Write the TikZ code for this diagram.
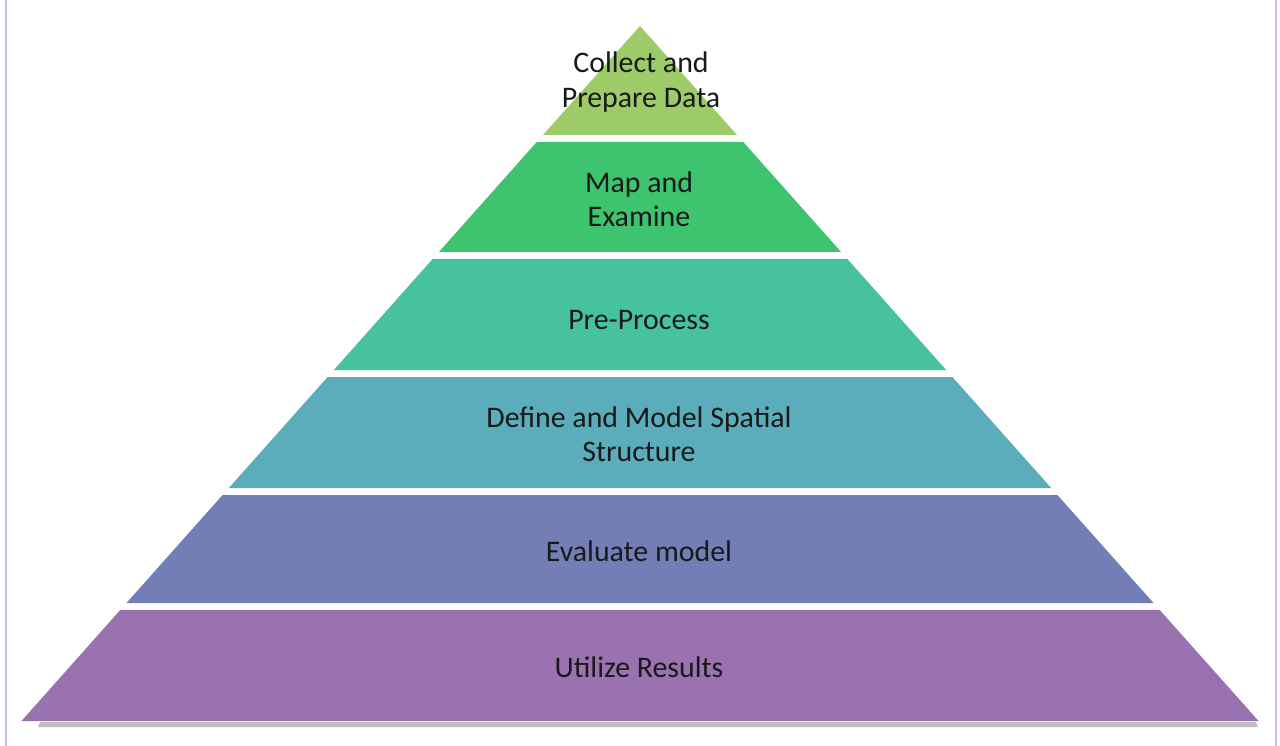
\documentclass[tikz,border=0pt]{standalone}
\usepackage{fontspec}
\setmainfont{Carlito}
\begin{document}
\begin{tikzpicture}[x=0.02cm,y=-0.02cm,
  lbl/.style={align=center,font=\fontsize{17}{19.5}\selectfont,text=black!90}]
\useasboundingbox (0,0) rectangle (1280,746);
\fill[white] (0,0) rectangle (1280,746);
\draw[blue!25,line width=1.2pt] (6,0) -- (6,746);
\draw[blue!25,line width=1.2pt] (1276,0) -- (1276,746);
\fill[black!25] (40,722) -- (1256,722) -- (1258,727) -- (38,727) -- cycle;
% band (top, bottom, colour)
\def\band#1#2#3{\fill[#3] ({640-(#1-26)*0.89},#1) -- ({640+(#1-26)*0.89},#1) -- ({640+(#2-26)*0.89},#2) -- ({640-(#2-26)*0.89},#2) -- cycle;}
\definecolor{c1}{HTML}{9CCB68}
\definecolor{c2}{HTML}{3EC46F}
\definecolor{c3}{HTML}{46C29F}
\definecolor{c4}{HTML}{5BADBB}
\definecolor{c5}{HTML}{737EB6}
\definecolor{c6}{HTML}{9B72B0}
\band{26}{135}{c1}
\band{142}{252}{c2}
\band{259}{370}{c3}
\band{377}{488}{c4}
\band{495}{603}{c5}
\band{610}{721}{c6}
\node[lbl] (l1) at (641,82) {Collect and\\Prepare Data};
\node[lbl] (l2) at (639,199) {Map and\\Examine};
\node[lbl] (l3) at (639,320) {Pre-Process};
\node[lbl] (l4) at (639,434) {Define and Model Spatial\\Structure};
\node[lbl] (l5) at (639,551) {Evaluate model};
\node[lbl] (l6) at (639,667) {Utilize Results};
\end{tikzpicture}
\end{document}
